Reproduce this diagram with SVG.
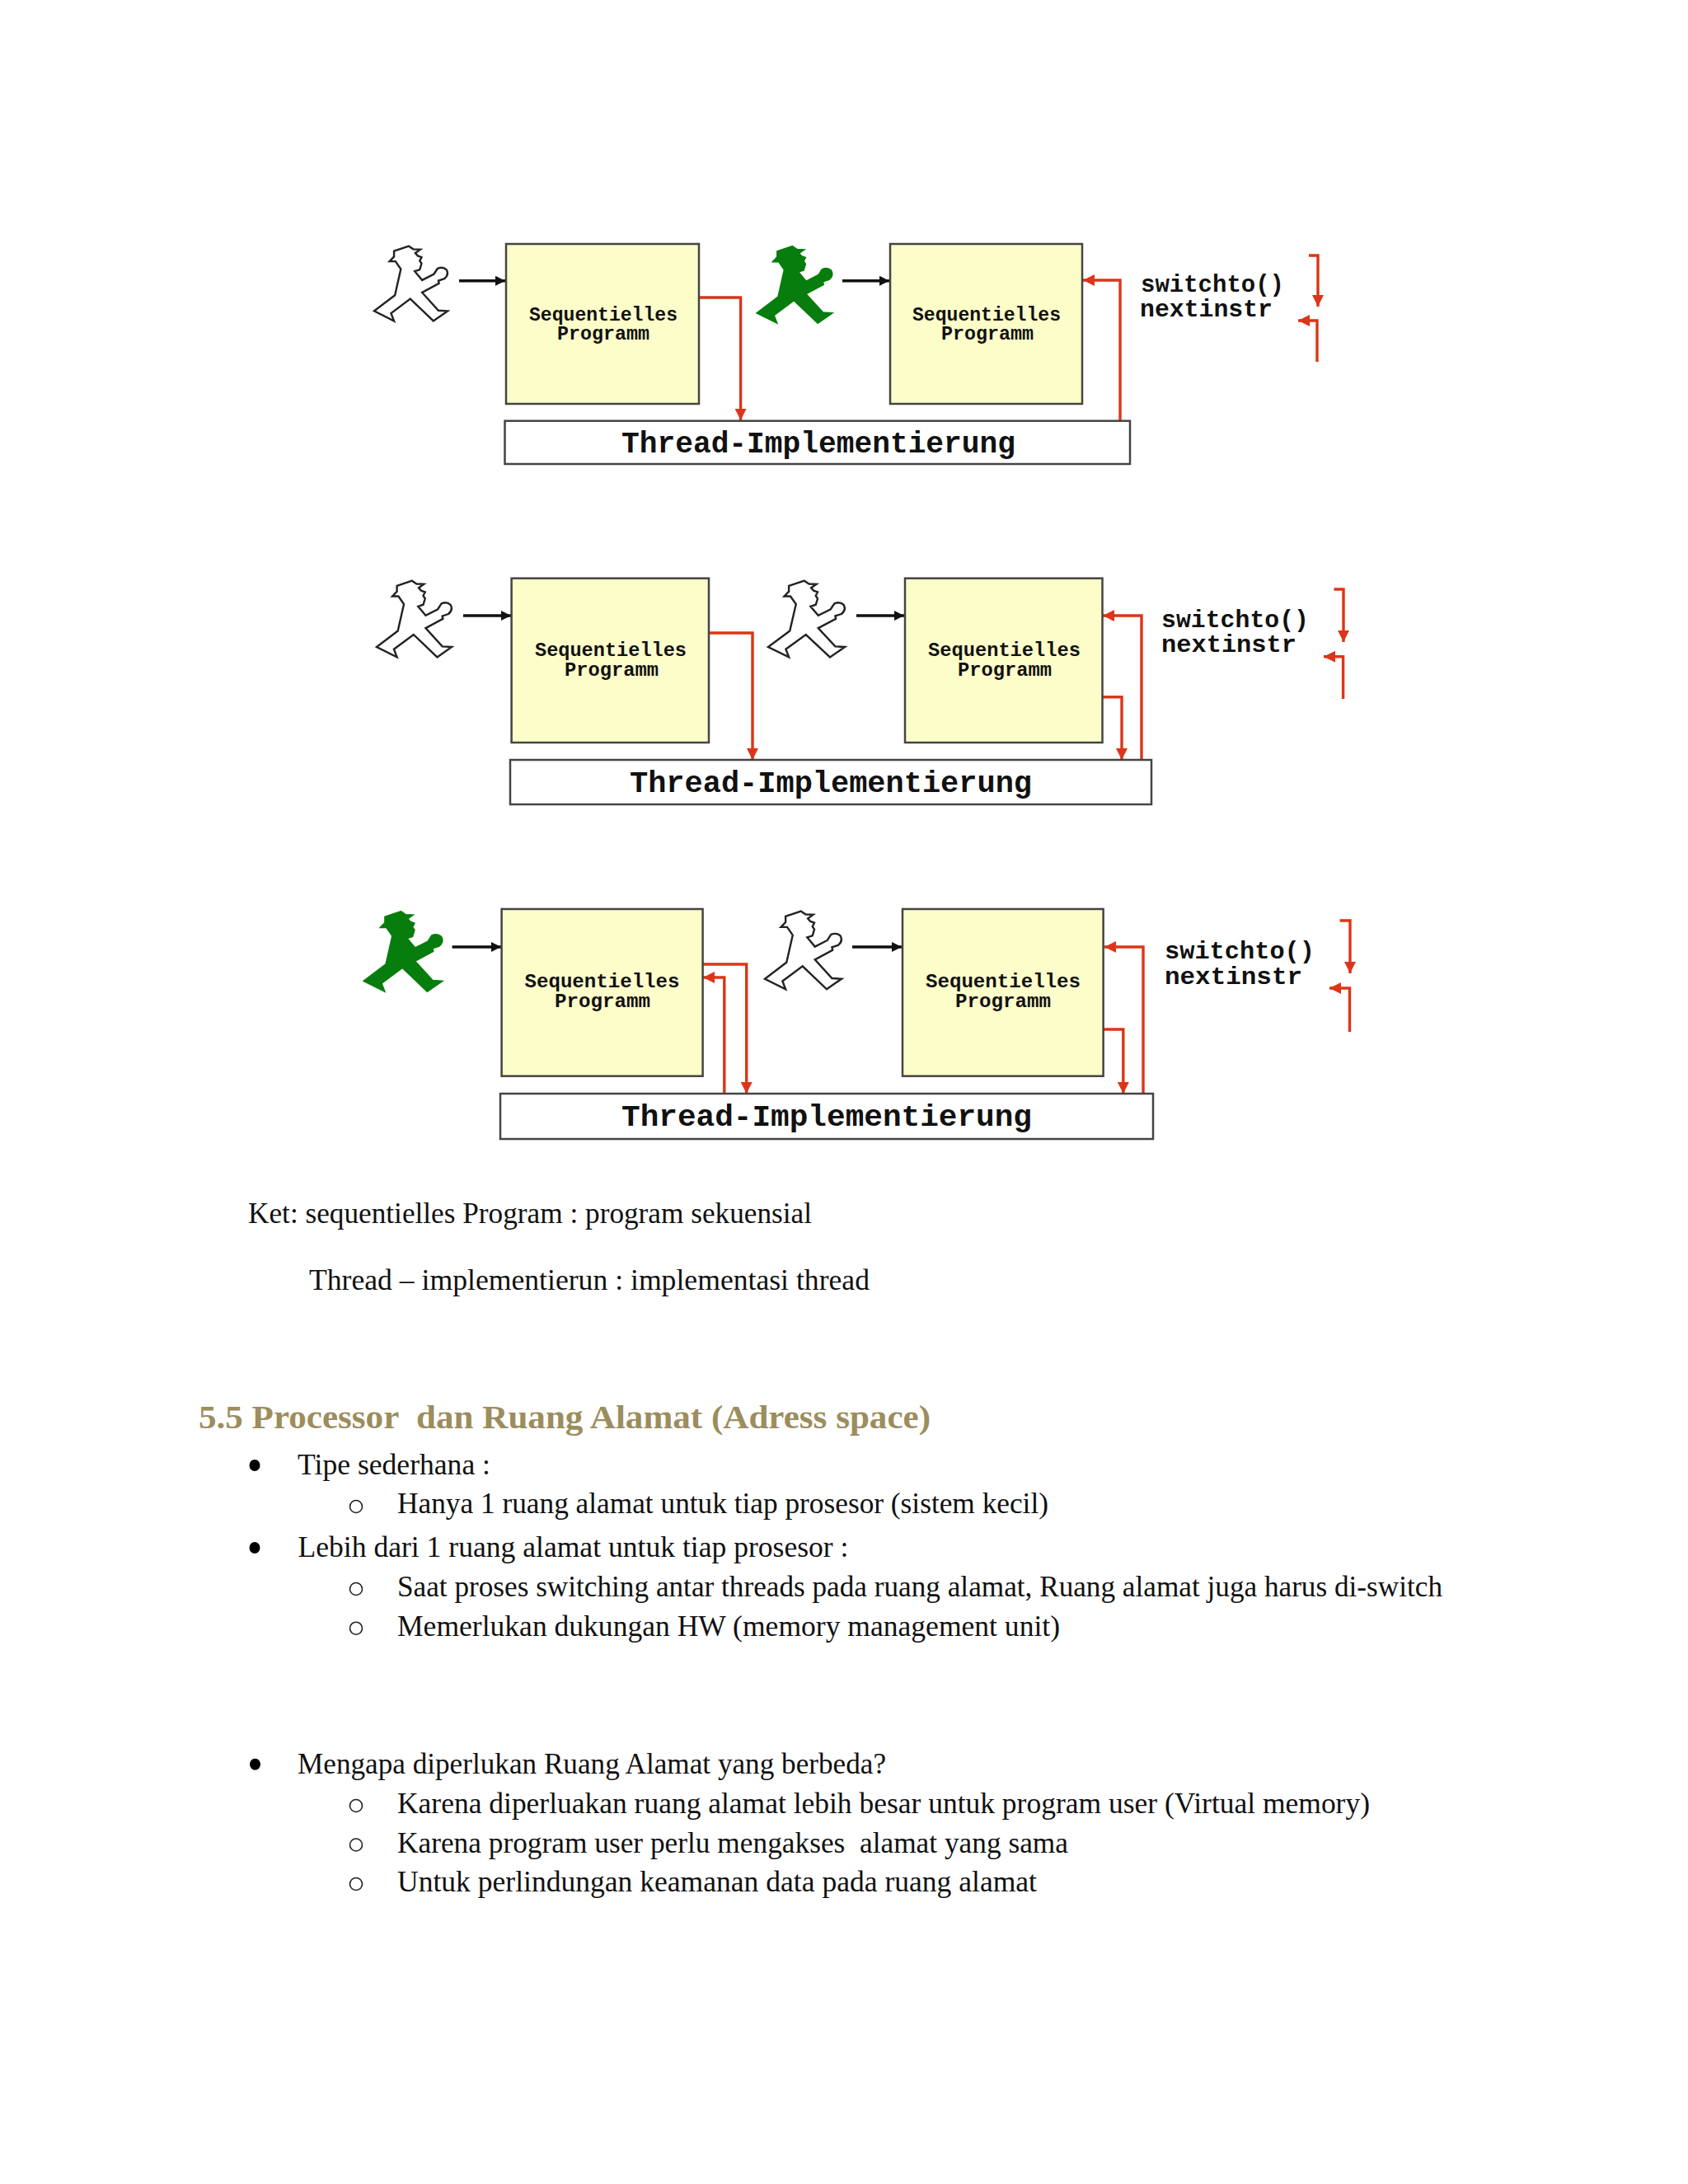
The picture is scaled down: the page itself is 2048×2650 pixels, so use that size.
<svg xmlns="http://www.w3.org/2000/svg" width="2048" height="2650" viewBox="0 0 2048 2650">
<style>
text{white-space:pre;fill:#111}
.m{font-family:"Liberation Mono",monospace;font-weight:700}
.s{font-size:23px}
.t{font-size:37px}
.w{font-size:29px}
.b{font-family:"Liberation Serif",serif;font-size:35px}
.h{font-family:"Liberation Serif",serif;font-size:39px;font-weight:700;fill:#9c8d5c}
.box{fill:#fdfdca;stroke:#444;stroke-width:2.5}
.bar{fill:#fff;stroke:#444;stroke-width:2.5}
.red{fill:none;stroke:#dc3519;stroke-width:3.4;marker-end:url(#ra)}
.blk{fill:none;stroke:#111;stroke-width:3.4;marker-end:url(#ba)}
.off{fill:#fff;stroke:#222;stroke-width:2.4}
.on{fill:#067d0c;stroke:#067d0c;stroke-width:1.5}
.dot{fill:#000}
.ring{fill:none;stroke:#222;stroke-width:1.6}
</style>
<defs>
<marker id="ra" markerUnits="userSpaceOnUse" markerWidth="16" markerHeight="16" refX="14" refY="7" orient="auto"><path d="M0 0L14 7L0 14Z" fill="#dc3519"/></marker>
<marker id="ba" markerUnits="userSpaceOnUse" markerWidth="14" markerHeight="14" refX="12" refY="6" orient="auto"><path d="M0 0L12 6L0 12Z" fill="#111"/></marker>
<path id="wk" vector-effect="non-scaling-stroke" d="M185 87L200 98L224 99L207 112L215 122L228 127L222 140L228 150L222 172L205 178L230 210L270 188L282 168Q300 160 312 172Q322 190 305 205L285 212L287 222L230 255L285 320L316 322L268 358L190 278L125 330L135 358L68 322L138 265L158 170L140 142L120 142L135 125L135 105Z"/>
</defs>
<rect width="2048" height="2650" fill="#fff"/>

<g id="connectors">
<path class="blk" d="M557 340.7H613"/>
<path class="blk" d="M1022 340.7H1079"/>
<path class="red" d="M848 361H898.6V510"/>
<path class="red" d="M1359 510V340H1314"/>
<path class="red" d="M1588 310H1599V372"/>
<path class="red" d="M1598 439V389H1575"/>

<path class="blk" d="M562 747H620"/>
<path class="blk" d="M1039 747H1097"/>
<path class="red" d="M860 768H913V922"/>
<path class="red" d="M1385 922V747H1338"/>
<path class="red" d="M1337.5 845.7H1361V922"/>
<path class="red" d="M1618.5 715H1630V779"/>
<path class="red" d="M1629.6 848V796.7H1606"/>

<path class="blk" d="M548.6 1149H608"/>
<path class="blk" d="M1034 1149H1094"/>
<path class="red" d="M852.6 1170H905.7V1327"/>
<path class="red" d="M878.8 1327V1186H853"/>
<path class="red" d="M1387 1327V1149H1340"/>
<path class="red" d="M1338.6 1249H1362.8V1327"/>
<path class="red" d="M1625.6 1117H1638V1181"/>
<path class="red" d="M1637.5 1252V1199H1613"/>
</g>

<g id="d1-walker-a"><use href="#wk" class="off" transform="translate(454 298) scale(.359 .335) translate(-68 -85)"/></g>
<g id="d1-program-a"><rect class="box" x="614" y="296" width="234" height="194"/>
<text class="m s" x="642" y="388.5" textLength="180" lengthAdjust="spacingAndGlyphs">Sequentielles</text>
<text class="m s" x="676" y="411.5" textLength="112" lengthAdjust="spacingAndGlyphs">Programm</text></g>
<g id="d1-walker-b"><use href="#wk" class="on" transform="translate(918 298) scale(.371 .345) translate(-68 -85)"/></g>
<g id="d1-program-b"><rect class="box" x="1080" y="296" width="233" height="194"/>
<text class="m s" x="1107" y="388.5" textLength="180" lengthAdjust="spacingAndGlyphs">Sequentielles</text>
<text class="m s" x="1142" y="411.5" textLength="112" lengthAdjust="spacingAndGlyphs">Programm</text></g>
<g id="d1-thread"><rect class="bar" x="612.5" y="510.7" width="758.5" height="52.3"/>
<text class="m t" x="754" y="548.5" textLength="478" lengthAdjust="spacingAndGlyphs">Thread-Implementierung</text></g>
<g id="d1-switch"><text class="m w" x="1384" y="354" textLength="174" lengthAdjust="spacingAndGlyphs">switchto()</text>
<text class="m w" x="1383" y="384" textLength="161" lengthAdjust="spacingAndGlyphs">nextinstr</text></g>

<g id="d2-walker-a"><use href="#wk" class="off" transform="translate(457 704) scale(.367 .342) translate(-68 -85)"/></g>
<g id="d2-program-a"><rect class="box" x="620.6" y="701.7" width="239.4" height="199.3"/>
<text class="m s" x="649" y="795.5" textLength="184" lengthAdjust="spacingAndGlyphs">Sequentielles</text>
<text class="m s" x="685" y="819.5" textLength="114" lengthAdjust="spacingAndGlyphs">Programm</text></g>
<g id="d2-walker-b"><use href="#wk" class="off" transform="translate(932 704) scale(.375 .342) translate(-68 -85)"/></g>
<g id="d2-program-b"><rect class="box" x="1098" y="701.7" width="239.5" height="199.3"/>
<text class="m s" x="1126" y="795.5" textLength="185" lengthAdjust="spacingAndGlyphs">Sequentielles</text>
<text class="m s" x="1162" y="819.5" textLength="114" lengthAdjust="spacingAndGlyphs">Programm</text></g>
<g id="d2-thread"><rect class="bar" x="619" y="922" width="778" height="54"/>
<text class="m t" x="764" y="960.5" textLength="488" lengthAdjust="spacingAndGlyphs">Thread-Implementierung</text></g>
<g id="d2-switch"><text class="m w" x="1409" y="760.5" textLength="179" lengthAdjust="spacingAndGlyphs">switchto()</text>
<text class="m w" x="1409" y="791" textLength="164" lengthAdjust="spacingAndGlyphs">nextinstr</text></g>

<g id="d3-walker-a"><use href="#wk" class="on" transform="translate(441 1105) scale(.387 .36) translate(-68 -85)"/></g>
<g id="d3-program-a"><rect class="box" x="608.6" y="1103" width="244" height="202.7"/>
<text class="m s" x="636.5" y="1197.5" textLength="188" lengthAdjust="spacingAndGlyphs">Sequentielles</text>
<text class="m s" x="673" y="1222" textLength="116" lengthAdjust="spacingAndGlyphs">Programm</text></g>
<g id="d3-walker-b"><use href="#wk" class="off" transform="translate(928 1105) scale(.375 .349) translate(-68 -85)"/></g>
<g id="d3-program-b"><rect class="box" x="1095" y="1103" width="243.6" height="202.7"/>
<text class="m s" x="1123" y="1197.5" textLength="188" lengthAdjust="spacingAndGlyphs">Sequentielles</text>
<text class="m s" x="1159" y="1222" textLength="116" lengthAdjust="spacingAndGlyphs">Programm</text></g>
<g id="d3-thread"><rect class="bar" x="607" y="1327" width="792" height="55"/>
<text class="m t" x="754" y="1365.5" textLength="498" lengthAdjust="spacingAndGlyphs">Thread-Implementierung</text></g>
<g id="d3-switch"><text class="m w" x="1413" y="1163" textLength="182" lengthAdjust="spacingAndGlyphs">switchto()</text>
<text class="m w" x="1413" y="1193.7" textLength="167" lengthAdjust="spacingAndGlyphs">nextinstr</text></g>

<g id="notes">
<text class="b" x="301" y="1484" textLength="684" lengthAdjust="spacingAndGlyphs">Ket: sequentielles Program : program sekuensial</text>
<text class="b" x="375" y="1565" textLength="680" lengthAdjust="spacingAndGlyphs">Thread – implementierun : implementasi thread</text>
</g>
<g id="section">
<text class="h" x="241" y="1732.5" textLength="888" lengthAdjust="spacingAndGlyphs">5.5 Processor  dan Ruang Alamat (Adress space)</text>
<ellipse class="dot" cx="309" cy="1778" rx="6.5" ry="7"/>
<text class="b" x="361" y="1789" textLength="234" lengthAdjust="spacingAndGlyphs">Tipe sederhana :</text>
<circle class="ring" cx="432" cy="1828" r="7.5"/>
<text class="b" x="482" y="1836" textLength="790" lengthAdjust="spacingAndGlyphs">Hanya 1 ruang alamat untuk tiap prosesor (sistem kecil)</text>
<ellipse class="dot" cx="309" cy="1878" rx="6.5" ry="7"/>
<text class="b" x="361.5" y="1889" textLength="668" lengthAdjust="spacingAndGlyphs">Lebih dari 1 ruang alamat untuk tiap prosesor :</text>
<circle class="ring" cx="432" cy="1928" r="7.5"/>
<text class="b" x="482" y="1937" textLength="1268" lengthAdjust="spacingAndGlyphs">Saat proses switching antar threads pada ruang alamat, Ruang alamat juga harus di-switch</text>
<circle class="ring" cx="432" cy="1975.7" r="7.5"/>
<text class="b" x="482" y="1985" textLength="804" lengthAdjust="spacingAndGlyphs">Memerlukan dukungan HW (memory management unit)</text>
<ellipse class="dot" cx="309.5" cy="2140.7" rx="6.5" ry="7"/>
<text class="b" x="361" y="2152" textLength="714" lengthAdjust="spacingAndGlyphs">Mengapa diperlukan Ruang Alamat yang berbeda?</text>
<circle class="ring" cx="432" cy="2191" r="7.5"/>
<text class="b" x="482" y="2200" textLength="1180" lengthAdjust="spacingAndGlyphs">Karena diperluakan ruang alamat lebih besar untuk program user (Virtual memory)</text>
<circle class="ring" cx="432" cy="2238.5" r="7.5"/>
<text class="b" x="482" y="2247.7" textLength="814" lengthAdjust="spacingAndGlyphs">Karena program user perlu mengakses  alamat yang sama</text>
<circle class="ring" cx="432" cy="2286" r="7.5"/>
<text class="b" x="482" y="2295" textLength="776" lengthAdjust="spacingAndGlyphs">Untuk perlindungan keamanan data pada ruang alamat</text>
</g>
</svg>
